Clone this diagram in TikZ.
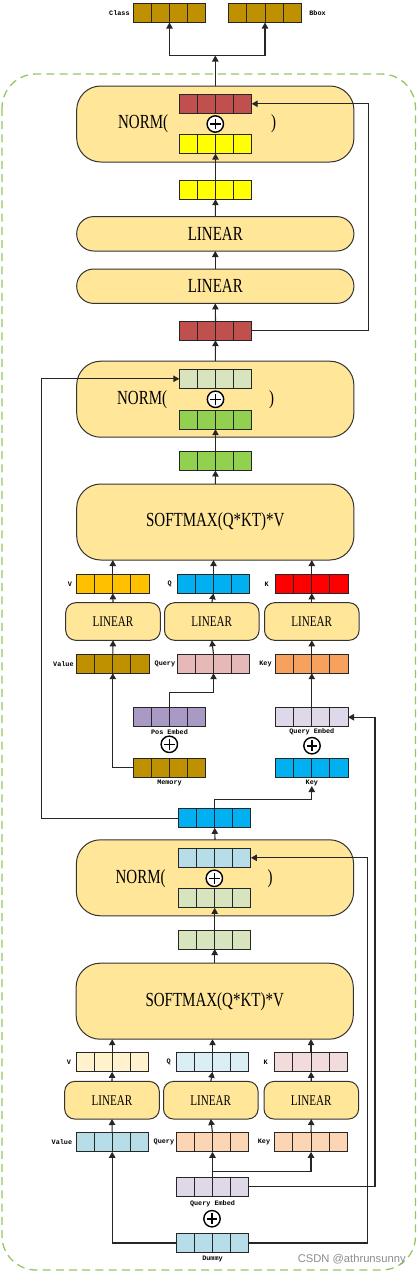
\documentclass[tikz,border=0pt]{standalone}
\usepackage{fontspec}
\setmainfont{Liberation Serif}
\newfontfamily\cfont[FakeStretch=0.75]{Liberation Serif}
\newfontfamily\mfont{Liberation Mono}
\newfontfamily\wfont{Liberation Sans}
\usetikzlibrary{arrows.meta,calc}
\definecolor{blockfill}{HTML}{FFE699}
\definecolor{gold}{HTML}{BF9000}
\definecolor{brick}{HTML}{C0504D}
\definecolor{yel}{HTML}{FFFF00}
\definecolor{lgreen}{HTML}{D7E4BD}
\definecolor{grn}{HTML}{92D050}
\definecolor{orng}{HTML}{FFC000}
\definecolor{cyn}{HTML}{00B0F0}
\definecolor{rd}{HTML}{FF0000}
\definecolor{pnk}{HTML}{E6B9B8}
\definecolor{keyor}{HTML}{F6A25E}
\definecolor{purp}{HTML}{A99AC5}
\definecolor{lav}{HTML}{DFD8E8}
\definecolor{cream}{HTML}{FFF2CC}
\definecolor{pblue}{HTML}{DBEEF4}
\definecolor{ppink}{HTML}{F2DCDB}
\definecolor{lblue}{HTML}{B7DEE8}
\definecolor{peach}{HTML}{FCD5B5}
\definecolor{dashgreen}{HTML}{92C864}
\tikzset{
 vecbox/.style={draw=black!85, line width=0.5pt, minimum width=36.2pt, minimum height=9.5pt, inner sep=0pt, outer sep=0pt,
   path picture={\foreach \i in {1,2,3}{\draw[black!85,line width=0.5pt] ([xshift=\i*9.05pt]path picture bounding box.north west) -- ([xshift=\i*9.05pt]path picture bounding box.south west);}}},
 bigblock/.style={draw=black!80, line width=0.5pt, fill=blockfill, rounded corners=12pt, minimum width=138.6pt, minimum height=38pt, inner sep=0pt, outer sep=0pt, font=\cfont\fontsize{10}{12}\selectfont},
 linblock/.style={draw=black!80, line width=0.5pt, fill=blockfill, rounded corners=8.5pt, minimum width=138.6pt, minimum height=17.2pt, inner sep=0pt, outer sep=0pt, font=\cfont\fontsize{10}{12}\selectfont},
 smallblock/.style={draw=black!80, line width=0.5pt, fill=blockfill, rounded corners=5pt, minimum width=47.3pt, minimum height=18.8pt, inner sep=0pt, outer sep=0pt, font=\cfont\fontsize{7.4}{9}\selectfont},
 arr/.style={-{Triangle[width=3.2pt,length=3pt]}, line width=0.55pt, draw=black!85},
 ln/.style={line width=0.55pt, draw=black!85},
 plus/.style={circle, draw=black, line width=0.7pt, fill=white, minimum size=8.2pt, inner sep=0pt,
   path picture={\draw[line width=0.8pt] ([xshift=-2.7pt]path picture bounding box.center) -- ([xshift=2.7pt]path picture bounding box.center);
                 \draw[line width=0.8pt] ([yshift=-2.7pt]path picture bounding box.center) -- ([yshift=2.7pt]path picture bounding box.center);}},
 lab/.style={font=\mfont\bfseries\fontsize{3.4}{4}\selectfont, inner sep=0pt},
 normtxt/.style={font=\cfont\fontsize{10}{12}\selectfont, inner sep=0pt},
}
\begin{document}
\begin{tikzpicture}[x=0.5pt,y=-0.5pt]
\useasboundingbox (0,0) rectangle (417,1274);
% outer dashed frame
\draw[dashgreen, line width=0.65pt, dash pattern=on 4pt off 2.6pt, rounded corners=17pt] (2,74) rectangle (415.5,1270);

% ---------- outputs ----------
\node[vecbox, fill=gold] (class) at (169.5,13) {};
\node[vecbox, fill=gold] (bbox) at (265,13) {};
\node[lab, anchor=east] at (130,13) {Class};
\node[lab, anchor=west] at (309,13) {Bbox};

% ---------- top FFN / norm ----------
\node[bigblock] (norm1) at (215.3,124) {};
\node[vecbox, fill=brick] (red1) at (215.5,103.8) {};
\node[plus] (p1) at (215.3,124) {};
\node[vecbox, fill=yel] (yel1) at (215.5,144) {};
\node[normtxt, anchor=east] at (168.5,124) {NORM(};
\node[normtxt] at (273.5,124) {)};

\node[vecbox, fill=yel] (yel2) at (215.5,189.7) {};
\node[linblock] (lin1) at (215.3,233.8) {LINEAR};
\node[linblock] (lin2) at (215.3,286.2) {LINEAR};
\node[vecbox, fill=brick] (red2) at (215.5,330.7) {};

% ---------- cross attention ----------
\node[bigblock] (norm2) at (215.3,399.2) {};
\node[vecbox, fill=lgreen] (lg1) at (215.5,378.8) {};
\node[plus] (p2) at (215.5,399.3) {};
\node[vecbox, fill=grn] (gr1) at (215.5,419.7) {};
\node[normtxt, anchor=east] at (167.5,399.3) {NORM(};
\node[normtxt] at (271.7,399.3) {)};

\node[vecbox, fill=grn] (gr2) at (215.5,461) {};
\node[bigblock] (soft1) at (215.3,522) {SOFTMAX(Q*KT)*V};

\node[vecbox, fill=orng] (v1) at (112.8,583.8) {};
\node[vecbox, fill=cyn] (q1) at (213.5,583.8) {};
\node[vecbox, fill=rd] (k1) at (311.8,583.8) {};
\node[lab] at (70,583.8) {V};
\node[lab] at (169.7,583.8) {Q};
\node[lab] at (266.7,583.8) {K};

\node[smallblock] (la1) at (113,621.5) {LINEAR};
\node[smallblock] (lb1) at (211.8,621.5) {LINEAR};
\node[smallblock] (lc1) at (311.8,621.5) {LINEAR};

\node[vecbox, fill=gold] (val1) at (112.8,663.7) {};
\node[vecbox, fill=pnk] (qry1) at (213.5,663.7) {};
\node[vecbox, fill=keyor] (key1) at (311.8,663.7) {};
\node[lab, anchor=east] at (74,663.7) {Value};
\node[lab, anchor=east] at (175.5,663.7) {Query};
\node[lab, anchor=east] at (272,663.7) {Key};

\node[vecbox, fill=purp] (pos) at (169.5,717.2) {};
\node[lab] at (169.5,731.7) {Pos Embed};
\node[plus] (p3) at (169.3,744.3) {};
\node[vecbox, fill=gold] (mem) at (169.5,767.8) {};
\node[lab] at (169.5,782.7) {Memory};

\node[vecbox, fill=lav] (qe1) at (311.8,717.2) {};
\node[lab] at (311.8,731.7) {Query Embed};
\node[plus] (p4) at (312,745.7) {};
\node[vecbox, fill=cyn] (key2) at (311.8,767.8) {};
\node[lab] (keylab) at (311.8,782.7) {Key};

\node[vecbox, fill=cyn] (blue) at (214.7,818.3) {};

% ---------- self attention ----------
\node[bigblock] (norm3) at (215,877.8) {};
\node[vecbox, fill=lblue] (lb) at (214.7,857.8) {};
\node[plus] (p5) at (214.3,878.3) {};
\node[vecbox, fill=lgreen] (lg2) at (214.7,898.3) {};
\node[normtxt, anchor=east] at (166,878.3) {NORM(};
\node[normtxt] at (270,878.3) {)};

\node[vecbox, fill=lgreen] (lg3) at (214.7,939.5) {};
\node[bigblock] (soft2) at (214.7,1001.2) {SOFTMAX(Q*KT)*V};

\node[vecbox, fill=cream] (v2) at (112.2,1062.3) {};
\node[vecbox, fill=pblue] (q2) at (212.5,1062.3) {};
\node[vecbox, fill=ppink] (k2) at (311,1062.3) {};
\node[lab] at (69,1062.3) {V};
\node[lab] at (168.7,1062.3) {Q};
\node[lab] at (265.7,1062.3) {K};

\node[smallblock] (la2) at (112,1100.2) {LINEAR};
\node[smallblock] (lb2) at (210.8,1100.2) {LINEAR};
\node[smallblock] (lc2) at (311.3,1100.2) {LINEAR};

\node[vecbox, fill=lblue] (val2) at (112.2,1142.3) {};
\node[vecbox, fill=peach] (qry2) at (212.5,1142.3) {};
\node[vecbox, fill=peach] (key3) at (311,1142.3) {};
\node[lab, anchor=east] at (72.5,1142.3) {Value};
\node[lab, anchor=east] at (174.5,1142.3) {Query};
\node[lab, anchor=east] at (270.5,1142.3) {Key};

\node[vecbox, fill=lav] (qe2) at (212.5,1186.7) {};
\node[lab] at (212.5,1203.3) {Query Embed};
\node[plus] (p6) at (212,1218.7) {};
\node[vecbox, fill=lblue] (dummy) at (212.5,1243) {};
\node[lab] at (212.5,1259.3) {Dummy};

\node[font=\wfont\fontsize{5.6}{6}\selectfont, text=black!45, inner sep=0pt] (wm) at (351.7,1259.5) {CSDN @athrunsunny};

% ---------- coordinates ----------
\coordinate (j1) at (215.3,55.5);
\coordinate (fb1) at (368.3,103.8);
\coordinate (c1) at (169.5,692.7);
\coordinate (c2) at (214.7,799.3);
\coordinate (c3) at (41.7,378.8);
\coordinate (c4) at (212.5,1171.7);
\coordinate (c5) at (375,717.2);
\coordinate (c6) at (367.3,857.8);

% ---------- connectors ----------
\draw[arr] (norm1.north) -- (j1);
\draw[arr] (j1) -| (class.south);
\draw[arr] (j1) -| (bbox.south);
\draw[arr] (yel2.north) -- (yel1.south);
\draw[arr] (lin1.north) -- (yel2.south);
\draw[arr] (lin2.north) -- (lin1.south);
\draw[arr] (red2.north) -- (lin2.south);
\draw[arr] (red2.east) -| (fb1) -- (red1.east);
\draw[arr] (norm2.north) -- (red2.south);
\draw[arr] (gr2.north) -- (gr1.south);
\draw[arr] (soft1.north) -- (gr2.south);

\foreach \v/\l in {v1/la1,q1/lb1,k1/lc1}{
  \draw[arr] (\v.north) -- (\v.north |- soft1.south);
  \draw[arr] (\l.north) -- (\v.south);
}
\foreach \v/\l in {val1/la1,qry1/lb1,key1/lc1}{
  \draw[arr] (\v.north) -- (\l.south);
}
\draw[arr] (mem.west) -| (val1.south);
\draw[arr] (pos.north) -- (c1) -| (qry1.south);
\draw[arr] (qe1.north) -- (key1.south);
\draw[arr] (blue.north) |- (c2) -| (keylab.south);
\draw[arr] (blue.west) -| (c3) -- (lg1.west);
\draw[arr] (norm3.north) -- (blue.south);
\draw[arr] (lg3.north) -- (lg2.south);
\draw[arr] (soft2.north) -- (lg3.south);

\foreach \v/\l in {v2/la2,q2/lb2,k2/lc2}{
  \draw[arr] (\v.north) -- (\v.north |- soft2.south);
  \draw[arr] (\l.north) -- (\v.south);
}
\foreach \v/\l in {val2/la2,qry2/lb2,key3/lc2}{
  \draw[arr] (\v.north) -- (\l.south);
}
\draw[arr] (qe2.north) -- (qry2.south);
\draw[arr] (c4) -| (key3.south);
\draw[arr] (qe2.east) -| (c5) -- (qe1.east);
\draw[arr] (dummy.west) -| (val2.south);
\draw[arr] (dummy.east) -| (c6) -- (lb.east);
\end{tikzpicture}
\end{document}
